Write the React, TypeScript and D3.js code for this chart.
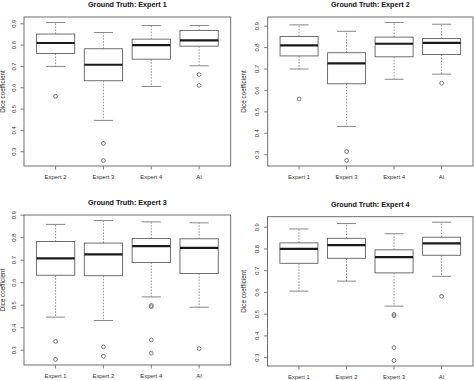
import React from "react";
import * as d3 from "d3";

// ---------- data ----------
const titles = [
  "Ground Truth: Expert 1",
  "Ground Truth: Expert 2",
  "Ground Truth: Expert 3",
  "Ground Truth: Expert 4",
];
const yAxisLabel = "Dice coefficient";
const yTicks = [0.3, 0.4, 0.5, 0.6, 0.7, 0.8, 0.9];

// Panel 1 — Ground Truth: Expert 1
const p1Categories = ["Expert 2", "Expert 3", "Expert 4", "AI"];
const p1Lower = [0.7, 0.447, 0.606, 0.703];
const p1Q1 = [0.761, 0.633, 0.734, 0.795];
const p1Median = [0.81, 0.708, 0.8, 0.822];
const p1Q3 = [0.852, 0.783, 0.828, 0.869];
const p1Upper = [0.906, 0.859, 0.892, 0.892];
const p1Outliers = [[0.56], [0.339, 0.259], [], [0.662, 0.611]];

// Panel 2 — Ground Truth: Expert 2
const p2Categories = ["Expert 1", "Expert 3", "Expert 4", "AI"];
const p2Lower = [0.7, 0.432, 0.652, 0.676];
const p2Q1 = [0.761, 0.631, 0.757, 0.768];
const p2Median = [0.81, 0.726, 0.818, 0.822];
const p2Q3 = [0.852, 0.776, 0.849, 0.842];
const p2Upper = [0.906, 0.876, 0.917, 0.909];
const p2Outliers = [[0.56], [0.315, 0.273], [], [0.634]];

// Panel 3 — Ground Truth: Expert 3
const p3Categories = ["Expert 1", "Expert 2", "Expert 4", "AI"];
const p3Lower = [0.447, 0.432, 0.537, 0.491];
const p3Q1 = [0.633, 0.631, 0.69, 0.641];
const p3Median = [0.708, 0.726, 0.762, 0.755];
const p3Q3 = [0.783, 0.776, 0.796, 0.795];
const p3Upper = [0.859, 0.876, 0.87, 0.866];
const p3Outliers = [[0.339, 0.259], [0.315, 0.273], [0.499, 0.493, 0.346, 0.287], [0.307]];

// Panel 4 — Ground Truth: Expert 4
const p4Categories = ["Expert 1", "Expert 2", "Expert 3", "AI"];
const p4Lower = [0.606, 0.652, 0.537, 0.674];
const p4Q1 = [0.734, 0.757, 0.69, 0.771];
const p4Median = [0.8, 0.818, 0.762, 0.826];
const p4Q3 = [0.828, 0.849, 0.796, 0.854];
const p4Upper = [0.892, 0.917, 0.87, 0.923];
const p4Outliers = [[], [], [0.499, 0.493, 0.346, 0.287], [0.582]];

const panelData = [
  { cats: p1Categories, lo: p1Lower, q1: p1Q1, med: p1Median, q3: p1Q3, hi: p1Upper, out: p1Outliers },
  { cats: p2Categories, lo: p2Lower, q1: p2Q1, med: p2Median, q3: p2Q3, hi: p2Upper, out: p2Outliers },
  { cats: p3Categories, lo: p3Lower, q1: p3Q1, med: p3Median, q3: p3Q3, hi: p3Upper, out: p3Outliers },
  { cats: p4Categories, lo: p4Lower, q1: p4Q1, med: p4Median, q3: p4Q3, hi: p4Upper, out: p4Outliers },
];

// ---------- layout ----------
const W = 474;
const H = 380;
const layouts = [
  { left: 24, right: 230.7, top: 17, bottom: 166, ylabX: 4.5 },
  { left: 267.7, right: 473, top: 17, bottom: 166, ylabX: 245.5 },
  { left: 24, right: 230.7, top: 215, bottom: 365, ylabX: 4.5 },
  { left: 267.5, right: 473, top: 216.7, bottom: 366, ylabX: 245.5 },
];

const FONT = "'Liberation Sans', Arial, Helvetica, sans-serif";
const BOX = "#606060";
const WHISK = "#7a7a7a";

function Panel({ idx }: { idx: number }) {
  const d = panelData[idx];
  const L = layouts[idx];
  const all = [...d.lo, ...d.hi, ...d.out.flat()];
  const mn = d3.min(all) as number;
  const mx = d3.max(all) as number;
  const r = mx - mn;
  const y = d3.scaleLinear().domain([mn - 0.04 * r, mx + 0.04 * r]).range([L.bottom, L.top]);
  const n = d.cats.length;
  const x = d3.scaleLinear().domain([0.5 - 0.04 * n, n + 0.5 + 0.04 * n]).range([L.left, L.right]);
  const u = x(1) - x(0);
  const cxTitle = (L.left + L.right) / 2;
  const cyMid = (L.top + L.bottom) / 2;

  return (
    <g>
      <text x={cxTitle} y={L.top - 10} textAnchor="middle" fontFamily={FONT} fontWeight="bold" fontSize={7.2} fill="#111">
        {titles[idx]}
      </text>
      <text
        transform={`translate(${L.ylabX},${cyMid}) rotate(-90)`}
        textAnchor="middle"
        fontFamily={FONT}
        fontSize={6.3}
        fill="#222"
      >
        {yAxisLabel}
      </text>
      {/* y axis */}
      {yTicks.map((t) => (
        <g key={t}>
          <line x1={L.left - 3.5} x2={L.left} y1={y(t)} y2={y(t)} stroke={BOX} strokeWidth={0.8} />
          <text
            transform={`translate(${L.left - 8.3},${y(t)}) rotate(-90)`}
            textAnchor="middle"
            fontFamily={FONT}
            fontSize={5.8}
            fill="#333"
          >
            {d3.format(".1f")(t)}
          </text>
        </g>
      ))}
      {/* x axis */}
      {d.cats.map((c, i) => (
        <g key={c}>
          <line x1={x(i + 1)} x2={x(i + 1)} y1={L.bottom} y2={L.bottom + 3.5} stroke={BOX} strokeWidth={0.8} />
          <text x={x(i + 1)} y={L.bottom + 12.5} textAnchor="middle" fontFamily={FONT} fontSize={5.9} fill="#333">
            {c}
          </text>
        </g>
      ))}
      {/* boxes */}
      {d.cats.map((c, i) => {
        const cx = x(i + 1);
        return (
          <g key={"b" + c}>
            <line x1={cx} x2={cx} y1={y(d.q3[i])} y2={y(d.hi[i])} stroke={WHISK} strokeWidth={0.8} strokeDasharray="1.6 1.4" />
            <line x1={cx} x2={cx} y1={y(d.q1[i])} y2={y(d.lo[i])} stroke={WHISK} strokeWidth={0.8} strokeDasharray="1.6 1.4" />
            <line x1={cx - 0.2 * u} x2={cx + 0.2 * u} y1={y(d.hi[i])} y2={y(d.hi[i])} stroke={WHISK} strokeWidth={0.9} />
            <line x1={cx - 0.2 * u} x2={cx + 0.2 * u} y1={y(d.lo[i])} y2={y(d.lo[i])} stroke={WHISK} strokeWidth={0.9} />
            <rect
              x={cx - 0.4 * u}
              y={y(d.q3[i])}
              width={0.8 * u}
              height={y(d.q1[i]) - y(d.q3[i])}
              fill="white"
              stroke={BOX}
              strokeWidth={0.9}
            />
            <line x1={cx - 0.4 * u} x2={cx + 0.4 * u} y1={y(d.med[i])} y2={y(d.med[i])} stroke="#1a1a1a" strokeWidth={2.2} />
            {d.out[i].map((o, k) => (
              <circle key={k} cx={cx} cy={y(o)} r={1.9} fill="none" stroke={BOX} strokeWidth={0.8} />
            ))}
          </g>
        );
      })}
      <rect x={L.left} y={L.top} width={L.right - L.left} height={L.bottom - L.top} fill="none" stroke={BOX} strokeWidth={0.9} />
    </g>
  );
}

export default function App() {
  return (
    <svg
      width={W}
      height={H}
      viewBox={`0 0 ${W} ${H}`}
      style={{ position: "absolute", left: 0, top: 0, background: "white" }}
    >
      <rect x={0} y={0} width={W} height={H} fill="white" />
      {[0, 1, 2, 3].map((i) => (
        <Panel key={i} idx={i} />
      ))}
    </svg>
  );
}
